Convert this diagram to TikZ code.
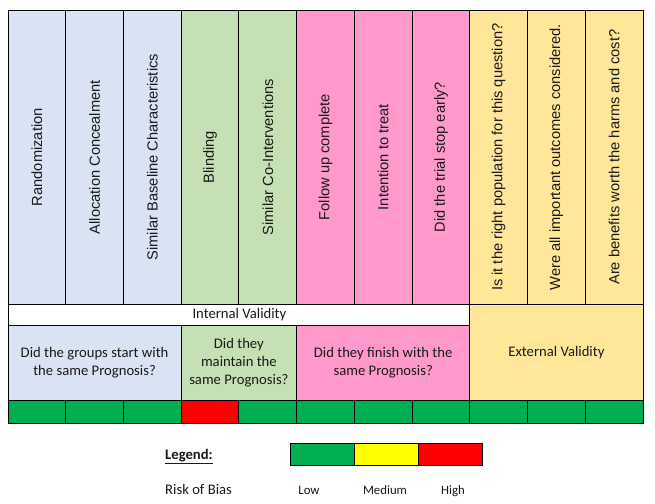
\documentclass[tikz,border=0pt]{standalone}
\usepackage{fontspec}
\setmainfont{Carlito}
\newfontfamily\arialfont{Liberation Sans}
\definecolor{cblue}{HTML}{DAE3F3}
\definecolor{cgreen}{HTML}{C5E0B4}
\definecolor{cpink}{HTML}{FF99CC}
\definecolor{cyellow}{HTML}{FFE699}
\definecolor{rgreen}{HTML}{00B050}
\definecolor{rred}{HTML}{FF0000}
\definecolor{ryellow}{HTML}{FFFF00}
\definecolor{txt}{HTML}{1A1A1A}
\begin{document}
\begin{tikzpicture}[x=1pt,y=1pt,
  cell/.style={draw=black,line width=0.9pt,inner sep=0pt,outer sep=0pt,text=txt},
  vcell/.style={cell,rotate=90,minimum width=294pt,minimum height=57.727pt,
    font=\arialfont\fontsize{14.67}{17}\selectfont},
  hcell/.style={cell,align=center,font=\fontsize{14.67}{18.2}\selectfont},
  bar/.style={cell,minimum width=57.727pt,minimum height=23.3pt},
  lbox/.style={cell,minimum width=64.13pt,minimum height=22pt},
  lab/.style={inner sep=0pt,text=txt}]
\useasboundingbox (0,0) rectangle (655,-503);
\fill[white] (0,0) rectangle (655,-503);
\foreach \i/\t/\c in {1/Randomization/cblue,2/Allocation Concealment/cblue,
  3/Similar Baseline Characteristics/cblue,4/Blinding/cgreen,
  5/Similar Co-Interventions/cgreen,6/Follow up complete/cpink,
  7/Intention to treat/cpink,8/Did the trial stop early?/cpink,
  9/Is it the right population for this question?/cyellow,
  10/Were all important outcomes considered./cyellow,
  11/Are benefits worth the harms and cost?/cyellow}{
  \node[vcell,fill=\c] (v\i) at ({8+(\i-0.5)*57.727},-157.15) {\t};
}
\node[hcell,fill=white,minimum width=462.8pt,minimum height=21pt] (iv) at (239.4,-314.8) {Internal Validity};
\node[hcell,fill=cblue,minimum width=173.18pt,minimum height=74.7pt] (g1) at (94.59,-362.65) {Did the groups start with\\the same Prognosis?};
\node[hcell,fill=cgreen,minimum width=115.45pt,minimum height=74.7pt] (g2) at (238.9,-362.65) {Did they\\maintain the\\same Prognosis?};
\node[hcell,fill=cpink,minimum width=173.18pt,minimum height=74.7pt] (g3) at (383.2,-362.65) {Did they finish with the\\same Prognosis?};
\node[hcell,fill=cyellow,minimum width=173.18pt,minimum height=95.7pt] (ev) at (556.4,-352.15) {External Validity};
\foreach \i/\c in {1/rgreen,2/rgreen,3/rgreen,4/rred,5/rgreen,6/rgreen,7/rgreen,8/rgreen,9/rgreen,10/rgreen,11/rgreen}{
  \node[bar,fill=\c] (b\i) at ({8+(\i-0.5)*57.727},-411.65) {};
}
\node[lab,anchor=base west,font=\fontsize{14.67}{17}\selectfont\bfseries] (leg) at (165,-459) {\underline{Legend:}};
\node[lbox,fill=rgreen] (l1) at (322.35,-454.3) {};
\node[lbox,fill=ryellow] (l2) at (386.5,-454.3) {};
\node[lbox,fill=rred] (l3) at (450.6,-454.3) {};
\node[lab,anchor=base west,font=\fontsize{14.67}{17}\selectfont] (rob) at (165,-494.3) {Risk of Bias};
\node[lab,anchor=base,font=\fontsize{12.8}{15}\selectfont] (lo) at (309,-494.3) {Low};
\node[lab,anchor=base,font=\fontsize{12.8}{15}\selectfont] (me) at (385,-494.3) {Medium};
\node[lab,anchor=base,font=\fontsize{12.8}{15}\selectfont] (hi) at (453,-494.3) {High};
\end{tikzpicture}
\end{document}
